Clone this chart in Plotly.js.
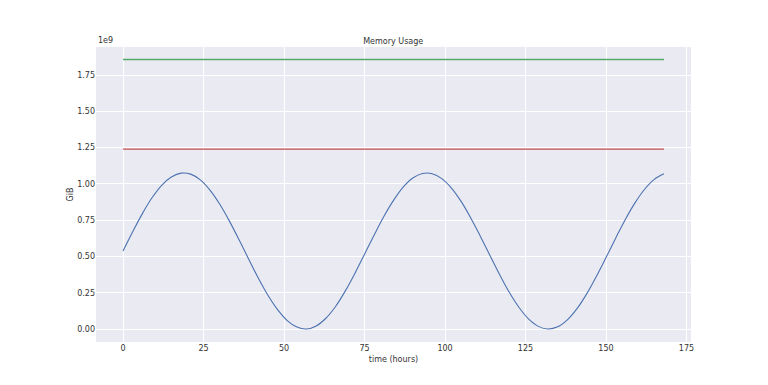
<!DOCTYPE html>
<html>
<head>
<meta charset="utf-8">
<script src="https://cdn.plot.ly/plotly-3.0.1.min.js"></script>
<style>html,body{margin:0;padding:0;background:#fff}#chart{width:768px;height:385px}</style>
</head>
<body>
<div id="chart"></div>
<script>
// time in hours
const hours = [0,3,6,9,12,15,18,21,24,27,30,33,36,39,42,45,48,51,54,57,60,63,66,69,72,75,78,81,84,87,90,93,96,99,102,105,108,111,114,117,120,123,126,129,132,135,138,141,144,147,150,153,156,159,162,165,168];
// memory usage, units of 1e9
const usage = [0.538,0.670,0.795,0.904,0.990,1.047,1.074,1.067,1.027,0.957,0.861,0.745,0.616,0.482,0.351,0.232,0.133,0.058,0.013,0.000,0.021,0.074,0.155,0.261,0.383,0.515,0.648,0.775,0.886,0.977,1.040,1.071,1.070,1.036,0.971,0.879,0.765,0.638,0.505,0.373,0.251,0.148,0.068,0.018,0.000,0.015,0.063,0.140,0.242,0.362,0.492,0.626,0.755,0.869,0.963,1.031,1.069];
const limitSpan = [0, 168];
const upperLimit = 1.857;
const lowerLimit = 1.240;
const xTicks = [0,25,50,75,100,125,150,175];
const yTicks = [0,0.25,0.5,0.75,1.0,1.25,1.5,1.75];
const yTickLabels = ["0.00","0.25","0.50","0.75","1.00","1.25","1.50","1.75"];

const font = {family: "DejaVu Sans", size: 8, color: "#333333"};
const traces = [
  {x: hours, y: usage, mode: "lines", line: {color: "#4c72b0", width: 1.1, shape: "spline", smoothing: 1}, hoverinfo: "skip"},
  {x: limitSpan, y: [upperLimit, upperLimit], mode: "lines", line: {color: "#55a868", width: 1.3}, hoverinfo: "skip"},
  {x: limitSpan, y: [lowerLimit, lowerLimit], mode: "lines", line: {color: "#c44e52", width: 1.3}, hoverinfo: "skip"}
];
const layout = {
  width: 768, height: 385,
  margin: {l: 96, r: 77, t: 47, b: 43},
  paper_bgcolor: "#ffffff",
  plot_bgcolor: "#eaeaf2",
  showlegend: false,
  font: font,
  title: {text: "Memory Usage", font: font, x: 0.512, xanchor: "center", y: 0.886, yanchor: "bottom"},
  xaxis: {
    range: [-8.4, 176.4], tickvals: xTicks, ticktext: xTicks.map(String),
    showgrid: true, gridcolor: "#ffffff", gridwidth: 1, zeroline: false, showline: false,
    ticks: "", ticklen: 0, tickfont: font,
    title: {text: "time (hours)", font: font, standoff: 4}
  },
  yaxis: {
    range: [-0.0896, 1.943], tickvals: yTicks, ticktext: yTickLabels,
    showgrid: true, gridcolor: "#ffffff", gridwidth: 1, zeroline: false, showline: false,
    ticks: "", ticklen: 0, tickfont: font,
    title: {text: "GiB", font: font, standoff: 2}
  },
  annotations: [
    {text: "1e9", xref: "paper", yref: "paper", x: 0, y: 1, xanchor: "left", yanchor: "bottom", showarrow: false, font: font, yshift: 0}
  ]
};
Plotly.newPlot("chart", traces, layout, {staticPlot: true, displayModeBar: false});
</script>
</body>
</html>
